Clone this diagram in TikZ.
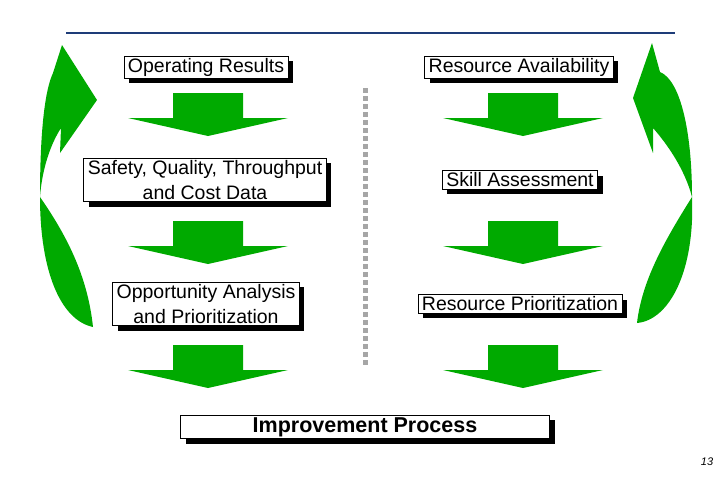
\documentclass[tikz,border=0pt]{standalone}
\usepackage{fontspec}
\setmainfont{Liberation Sans}
\usetikzlibrary{positioning,shadows}
\definecolor{arrowgreen}{RGB}{0,170,0}
\definecolor{rulenavy}{RGB}{30,60,120}
\tikzset{
  stepbox/.style={draw,fill=white,line width=0.8pt,inner xsep=4pt,inner ysep=2pt,align=center,font=\fontsize{19.5}{25}\selectfont,
    drop shadow={shadow xshift=5pt,shadow yshift=-5pt,opacity=1,fill=black}},
  flow/.style={fill=arrowgreen,draw=none}
}
% block arrow: centre x, top y
\newcommand{\blockarrow}[2]{%
  \fill[arrowgreen] (#1-35,#2) -- (#1+35,#2) -- (#1+35,#2+25) -- (#1+80,#2+25)
    -- (#1,#2+43) -- (#1-80,#2+25) -- (#1-35,#2+25) -- cycle;}
\begin{document}
\begin{tikzpicture}[x=1pt,y=-1pt]
	\useasboundingbox (0,0) rectangle (728,483);
	\draw[rulenavy,line width=1.5pt] (66,33) -- (675,33);
	\draw[gray!70,line width=5pt,dash pattern=on 5pt off 3pt] (365,88) -- (365,366);
	% left column
		\node[stepbox] (ops) at (206,67) {Operating Results};
		\node[stepbox] (sqtc) at (205,180) {Safety, Quality, Throughput\\and Cost Data};
		\node[stepbox] (opp) at (206,304) {Opportunity Analysis\\and Prioritization};
	% right column
		\node[stepbox] (avail) at (519,67) {Resource Availability};
		\node[stepbox] (skill) at (520,180) {Skill Assessment};
		\node[stepbox] (prio) at (520,304) {Resource Prioritization};
		\node[stepbox,minimum width=369pt,font=\bfseries\fontsize{21.5}{24}\selectfont] (impr) at (365,427) {Improvement Process};
	\foreach \y in {93,221,345} {
		\blockarrow{208}{\y}
		\blockarrow{523}{\y}
	}
	% feedback arrows
	\fill[arrowgreen] (62,45) -- (97,100) -- (60,153) -- (61,128)
		.. controls (50,145) and (42,170) .. (40,197)
		.. controls (40,130) and (45,90) .. (53,73) -- cycle;
	\fill[arrowgreen] (40,197) .. controls (70,240) and (88,280) .. (93,327)
		.. controls (60,320) and (40,270) .. (40,197) -- cycle;
	\fill[arrowgreen] (652,43) -- (633,98) -- (653,153) -- (653,128)
		.. controls (668,145) and (685,170) .. (692,197)
		.. controls (692,130) and (680,80) .. (660,72) -- cycle;
	\fill[arrowgreen] (692,197) .. controls (665,240) and (642,280) .. (637,323)
		.. controls (670,320) and (695,270) .. (692,197) -- cycle;
	\node[font=\itshape\fontsize{11}{12}\selectfont] (page) at (707,462) {13};
\end{tikzpicture}
\end{document}
